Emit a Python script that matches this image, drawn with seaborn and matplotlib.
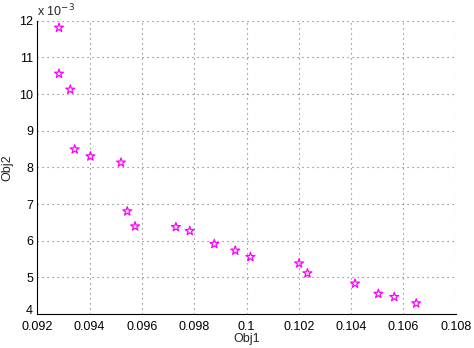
import matplotlib
matplotlib.use("Agg")
import matplotlib.pyplot as plt
import matplotlib.transforms as mtransforms
import seaborn as sns
import pandas as pd

obj1 = [0.09283, 0.09283, 0.09326, 0.09343, 0.09403, 0.09520, 0.09544, 0.09574,
        0.09730, 0.09783, 0.09877, 0.09957, 0.10015, 0.10201, 0.10233, 0.10415,
        0.10504, 0.10565, 0.10649]
obj2 = [11.81, 10.555, 10.12, 8.49, 8.30, 8.13, 6.80, 6.39,
        6.37, 6.265, 5.91, 5.73, 5.556, 5.38, 5.11, 4.83,
        4.55, 4.465, 4.29]  # x 10^-3
xticks = [0.092, 0.094, 0.096, 0.098, 0.1, 0.102, 0.104, 0.106, 0.108]
xticklabels = ["0.092", "0.094", "0.096", "0.098", "0.1", "0.102", "0.104", "0.106", "0.108"]
yticks = [4, 5, 6, 7, 8, 9, 10, 11, 12]

df = pd.DataFrame({"Obj1": obj1, "Obj2": obj2})

sns.set_style("white")
plt.rcParams['font.family'] = ['Liberation Sans', 'DejaVu Sans']

fig = plt.figure(figsize=(4.74, 3.48), dpi=100)
ax = fig.add_axes([0.0787, 0.0977, 0.9614 - 0.0787, 0.9405 - 0.0977])

sns.scatterplot(data=df, x="Obj1", y="Obj2", ax=ax, marker="*", s=45,
                facecolors="none", edgecolor="#ff00ff", linewidth=0.9, zorder=3)

ax.set_xlim(0.092, 0.108)
ax.set_ylim(4, 12)
ax.set_xticks(xticks)
ax.set_xticklabels(xticklabels)
ax.set_yticks(yticks)
ax.set_yticklabels([str(v) for v in yticks])

ax.grid(True, linestyle=(0, (1, 3.5)), color="#707070", linewidth=0.8)
for side in ["top", "right"]:
    ax.spines[side].set_visible(False)
for side in ["left", "bottom"]:
    ax.spines[side].set_color("black")
    ax.spines[side].set_linewidth(0.8)

ax.tick_params(axis="both", direction="in", length=0, labelsize=9, colors="black")
ax.tick_params(axis="x", pad=5)
ax.tick_params(axis="y", pad=3)
ax.set_xlabel("Obj1", fontsize=9, labelpad=0)
ax.set_ylabel("Obj2", fontsize=9, labelpad=4)
ax.text(0.0, 1.005, r"x 10$^{-3}$", transform=ax.transAxes, fontsize=9, ha="left", va="bottom")

# nudge the lowest y label up slightly, as in the reference
lbl = ax.get_yticklabels()[0]
lbl.set_transform(lbl.get_transform() + mtransforms.ScaledTranslation(0, 3 / 72, fig.dpi_scale_trans))

fig.savefig("out.png", dpi=100)
